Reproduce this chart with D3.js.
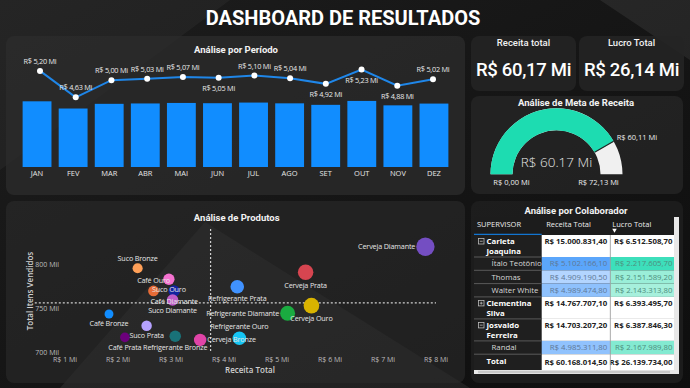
<!DOCTYPE html>
<html>
<head>
<meta charset="utf-8">
<script src="https://cdn.jsdelivr.net/npm/d3@7"></script>
<style>
  body { margin: 0; background: #141414; overflow: hidden; }
  svg { display: block; }
  text { font-family: "Open Sans", "Noto Sans", sans-serif; }
  .din { font-family: Roboto, "Open Sans", sans-serif; }
</style>
</head>
<body>
<div id="dash"></div>
<script>
// --- dados ---
var meses = ["JAN", "FEV", "MAR", "ABR", "MAI", "JUN", "JUL", "AGO", "SET", "OUT", "NOV", "DEZ"];
var receitaMes = [5.20, 4.63, 5.00, 5.03, 5.07, 5.05, 5.10, 5.04, 4.92, 5.23, 4.88, 5.02];
var rotuloMes = ["top", "top", "top", "top", "top", "bottom", "top", "top", "bottom", "bottom", "bottom", "top"];

var kpiTitulos = ["Receita total", "Lucro Total"];
var kpiValores = [60.17, 26.14];

var metaValor = 60.17, metaAlvo = 60.11, metaMin = 0, metaMax = 72.13;

var produtos = ["Café Bronze", "Café Diamante", "Café Ouro", "Café Prata",
    "Cerveja Bronze", "Cerveja Diamante", "Cerveja Ouro", "Cerveja Prata",
    "Refrigerante Bronze", "Refrigerante Diamante", "Refrigerante Ouro", "Refrigerante Prata",
    "Suco Bronze", "Suco Diamante", "Suco Ouro", "Suco Prata"];
var prodReceita = [1.83, 3.06, 2.67, 2.13, 3.55, 7.80, 5.65, 5.54, 3.08, 5.20, 4.29, 4.25, 2.37, 3.03, 2.96, 2.54];
var prodItens = [743.5, 769.7, 769.7, 717, 714, 820, 753, 790.9, 718.2, 744.3, 715.9, 774.5, 795.5, 759.4, 783, 730.2];
var prodRotulo = ["bottom", "bottom", "top", "bottom", "right", "left", "bottom", "bottom",
    "bottom", "left", "top", "bottom", "top", "bottom", "bottom", "bottom"];
var coresProd = ["#118DFF", "#12239E", "#E66C37", "#6B007B", "#E044A7", "#744EC2", "#D9B300", "#D64550",
    "#197278", "#1AAB40", "#15C6F4", "#4092FF", "#FFA058", "#BE5DC9", "#F472D0", "#B5A1FF"];
var xTicks = [1, 2, 3, 4, 5, 6, 7, 8];
var yTicks = [700, 750, 800];

var linhaNome = [["Carleta", "Joaquina"], ["Ítalo Teotônio"], ["Thomas"], ["Walter White"],
    ["Clementina", "Silva"], ["Josvaldo", "Ferreira"], ["Randal"], ["Total"]];
var linhaTipo = ["sup-", "col", "col", "col", "sup+", "sup-", "col", "total"];
var linhaReceita = [15000831.40, 5102166.10, 4909190.50, 4989474.80, 14767707.10, 14703207.20, 4985311.80, 60168014.50];
var linhaLucro = [6512508.70, 2217605.70, 2151589.20, 2143313.80, 6393495.70, 6387846.30, 2167989.80, 26139734.00];

// --- base ---
var W = 690, H = 388;
var svg = d3.select("#dash").append("svg").attr("width", W).attr("height", H);

var defs = svg.append("defs");
var grad = defs.append("linearGradient").attr("id", "bg").attr("x1", 0).attr("y1", 0).attr("x2", 1).attr("y2", 1);
grad.append("stop").attr("offset", "0%").attr("stop-color", "#1d1d1d");
grad.append("stop").attr("offset", "100%").attr("stop-color", "#0e0e0e");
svg.append("rect").attr("width", W).attr("height", H).attr("fill", "url(#bg)");

// faixas diagonais do fundo
var faixas = [
    [[0, 0], [230, 0], [0, 170]],
    [[205, 222], [470, 388], [60, 388]],
    [[600, 0], [690, 0], [690, 60]]
];
svg.append("g").selectAll("path").data(faixas).join("path")
    .attr("d", function (d) { return d3.line()(d) + "Z"; })
    .attr("fill", function (d, i) { return i == 0 ? "rgba(255,255,255,0.04)" : "rgba(255,255,255,0.07)"; });

svg.append("text").attr("class", "din")
    .attr("x", 343).attr("y", 25)
    .attr("text-anchor", "middle")
    .attr("fill", "#fff").attr("font-size", 20).attr("font-weight", 700)
    .text("DASHBOARD DE RESULTADOS");

function painel(x, y, w, h, fill) {
    svg.append("rect").attr("x", x).attr("y", y).attr("width", w).attr("height", h)
        .attr("rx", 8).attr("fill", fill);
}
function titulo(x, y, t) {
    svg.append("text").attr("class", "din").attr("x", x).attr("y", y)
        .attr("text-anchor", "middle").attr("fill", "#f2f2f2")
        .attr("font-size", 9.5).attr("font-weight", 700).text(t);
}

// --- Análise por Período ---
painel(6, 36, 459, 159, "rgba(44,44,44,0.75)");
titulo(236, 52.5, "Análise por Período");

var xBar = d3.scaleBand().domain(meses).range([19, 452]).paddingInner(0.2).paddingOuter(0.1);
var yBar = d3.scaleLinear().domain([0, 6]).range([167, 91.2]);
var gBar = svg.append("g");
gBar.selectAll("rect").data(receitaMes).join("rect")
    .attr("x", function (d, i) { return xBar(meses[i]); })
    .attr("y", function (d) { return yBar(d); })
    .attr("width", xBar.bandwidth())
    .attr("height", function (d) { return yBar(0) - yBar(d); })
    .attr("fill", "#118DFF");

var xAxisBar = d3.axisBottom(xBar).tickSize(0).tickPadding(4);
svg.append("g").attr("transform", "translate(0,167)").call(xAxisBar)
    .call(function (g) { g.select(".domain").remove(); })
    .selectAll("text").attr("fill", "#e6e6e6").attr("font-size", 7.5)
    .attr("font-family", "Open Sans");

var xLinha = d3.scalePoint().domain(meses).range([40, 433]);
var yLinha = d3.scaleLinear().domain(d3.extent(receitaMes)).range([97.3, 69.5]);
var linha = d3.line()
    .x(function (d, i) { return xLinha(meses[i]); })
    .y(function (d) { return yLinha(d); });
svg.append("path").datum(receitaMes).attr("d", linha)
    .attr("fill", "none").attr("stroke", "#1f86e8").attr("stroke-width", 2);
svg.append("g").selectAll("circle").data(receitaMes).join("circle")
    .attr("cx", function (d, i) { return xLinha(meses[i]); })
    .attr("cy", function (d) { return yLinha(d); })
    .attr("r", 3).attr("fill", "#fff");

var fmtMi = function (v) { return "R$ " + v.toFixed(2).replace(".", ",") + " Mi"; };
svg.append("g").selectAll("text").data(receitaMes).join("text")
    .attr("x", function (d, i) { return xLinha(meses[i]); })
    .attr("y", function (d, i) { return yLinha(d) + (rotuloMes[i] == "top" ? -7 : 13); })
    .attr("text-anchor", "middle")
    .attr("fill", "#eaeaea").attr("font-size", 7.3).attr("letter-spacing", -0.25)
    .text(fmtMi);

// --- KPIs ---
kpiTitulos.forEach(function (t, i) {
    var x0 = 471 + i * 108;
    painel(x0, 36, 105, 55, "rgba(36,36,36,0.85)");
    svg.append("text").attr("class", "din").attr("x", x0 + 52.5).attr("y", 45.5)
        .attr("text-anchor", "middle").attr("fill", "#f2f2f2")
        .attr("font-size", 9.5).attr("font-weight", 500).text(t);
    svg.append("text").attr("class", "din").attr("x", x0 + 52.5).attr("y", 76)
        .attr("text-anchor", "middle").attr("fill", "#fff")
        .attr("font-size", 18.5).attr("font-weight", 500).attr("letter-spacing", -0.3)
        .text("R$ " + kpiValores[i].toFixed(2).replace(".", ",") + " Mi");
});

// --- Meta de Receita ---
painel(471, 96, 212, 98, "rgba(36,36,36,0.85)");
titulo(576, 105.5, "Análise de Meta de Receita");
var gx = 556.5, gy = 174.3, rIn = 44, rOut = 66;
var ang = d3.scaleLinear().domain([metaMin, metaMax]).range([-Math.PI / 2, Math.PI / 2]);
var arco = d3.arc().innerRadius(rIn).outerRadius(rOut);
var gG = svg.append("g").attr("transform", "translate(" + gx + "," + gy + ")");
gG.append("path").attr("d", arco({ startAngle: ang(metaMin), endAngle: ang(metaMax) })).attr("fill", "#f0f0f0");
gG.append("path").attr("d", arco({ startAngle: ang(metaMin), endAngle: ang(metaValor) })).attr("fill", "#1ddcb1");
var aAlvo = ang(metaAlvo);
gG.append("line")
    .attr("x1", rIn * Math.sin(aAlvo)).attr("y1", -rIn * Math.cos(aAlvo))
    .attr("x2", rOut * Math.sin(aAlvo)).attr("y2", -rOut * Math.cos(aAlvo))
    .attr("stroke", "#222").attr("stroke-width", 1.2);
svg.append("text").attr("x", gx).attr("y", 166.5).attr("text-anchor", "middle")
    .attr("fill", "#e8e8e8").attr("font-size", 13.5).attr("font-weight", 300)
    .text("R$ " + metaValor.toFixed(2) + " Mi");
svg.append("text").attr("x", gx - 45).attr("y", 184.5).attr("text-anchor", "middle")
    .attr("fill", "#eee").attr("font-size", 7.5).text(fmtMi(metaMin));
svg.append("text").attr("x", gx + 42).attr("y", 184.5).attr("text-anchor", "middle")
    .attr("fill", "#eee").attr("font-size", 7.5).text(fmtMi(metaMax));
svg.append("text").attr("x", gx + rOut * Math.sin(aAlvo) + 3).attr("y", gy - rOut * Math.cos(aAlvo) - 1)
    .attr("fill", "#eee").attr("font-size", 7.5).text(fmtMi(metaAlvo));

// --- Análise de Produtos ---
painel(6, 201, 459, 182, "rgba(44,44,44,0.6)");
titulo(236.7, 221, "Análise de Produtos");
var xS = d3.scaleLinear().domain([1, 8]).range([65, 436]);
var yS = d3.scaleLinear().domain([700, 800]).range([352.3, 264.3]);
var rS = d3.scaleSqrt().domain([0, 8]).range([0, 9.3]);

svg.append("g").selectAll("text").data(xTicks).join("text")
    .attr("x", function (d) { return xS(d); }).attr("y", 361.5)
    .attr("text-anchor", "middle").attr("fill", "#bdbdbd").attr("font-size", 7)
    .text(function (d) { return "R$ " + d + " Mi"; });
svg.append("g").selectAll("text").data(yTicks).join("text")
    .attr("x", 59).attr("y", function (d) { return yS(d) + 2.5; })
    .attr("text-anchor", "end").attr("fill", "#bdbdbd").attr("font-size", 7)
    .text(function (d) { return d + " Mil"; });
svg.append("text").attr("x", 250).attr("y", 372.5).attr("text-anchor", "middle")
    .attr("fill", "#d0d0d0").attr("font-size", 8).attr("font-weight", 600).text("Receita Total");
svg.append("text").attr("transform", "translate(33,291) rotate(-90)").attr("text-anchor", "middle")
    .attr("fill", "#d0d0d0").attr("font-size", 8).attr("font-weight", 600).text("Total Itens Vendidos");

var mediaX = d3.mean(prodReceita), mediaY = d3.mean(prodItens);
svg.append("line").attr("x1", xS(mediaX)).attr("x2", xS(mediaX))
    .attr("y1", yS(840)).attr("y2", yS(700))
    .attr("stroke", "#cfcfcf").attr("stroke-width", 1.2).attr("stroke-dasharray", "2,2");
svg.append("line").attr("x1", xS(0.43)).attr("x2", xS(8))
    .attr("y1", yS(mediaY)).attr("y2", yS(mediaY))
    .attr("stroke", "#cfcfcf").attr("stroke-width", 1.2).attr("stroke-dasharray", "2,2");

var gP = svg.append("g");
gP.selectAll("circle").data(produtos).join("circle")
    .attr("cx", function (d, i) { return xS(prodReceita[i]); })
    .attr("cy", function (d, i) { return yS(prodItens[i]); })
    .attr("r", function (d, i) { return rS(prodReceita[i]); })
    .attr("fill", function (d, i) { return coresProd[i]; });
gP.selectAll("text").data(produtos).join("text")
    .attr("x", function (d, i) {
        var cx = xS(prodReceita[i]), r = rS(prodReceita[i]);
        if (prodRotulo[i] == "right") return cx + r + 1;
        if (prodRotulo[i] == "left") return cx - r - 1;
        return cx;
    })
    .attr("y", function (d, i) {
        var cy = yS(prodItens[i]), r = rS(prodReceita[i]);
        if (prodRotulo[i] == "top") return cy - r - 2.5;
        if (prodRotulo[i] == "bottom") return cy + r + 7.5;
        return cy + 2.5;
    })
    .attr("text-anchor", function (d, i) {
        return prodRotulo[i] == "right" ? "start" : prodRotulo[i] == "left" ? "end" : "middle";
    })
    .attr("fill", "#e6e6e6").attr("font-size", 7.2).attr("letter-spacing", -0.15)
    .text(function (d) { return d; });

// --- Análise por Colaborador ---
painel(471, 201, 212, 182, "rgba(30,30,30,0.9)");
titulo(576, 213.5, "Análise por Colaborador");
var locBR = d3.formatLocale({ decimal: ",", thousands: ".", grouping: [3], currency: ["R$ ", ""] });
var fmtBR = locBR.format("$,.2f");

var c0 = 474, c1 = 541.7, c2 = 610.3, c3 = 674;
svg.append("rect").attr("x", c0).attr("y", 217).attr("width", c3 - c0).attr("height", 17).attr("fill", "#1c1c1c");
svg.append("text").attr("x", c0 + 3).attr("y", 226.5).attr("fill", "#eee").attr("font-size", 7.5).text("SUPERVISOR");
svg.append("text").attr("x", c1 + 4.5).attr("y", 226.5).attr("fill", "#eee").attr("font-size", 7.5).text("Receita Total");
svg.append("text").attr("x", c2 + 2).attr("y", 226.5).attr("fill", "#eee").attr("font-size", 7.5).text("Lucro Total");
svg.append("path").attr("d", d3.symbol(d3.symbolTriangle, 9)()).attr("fill", "#fff")
    .attr("transform", "translate(614.5,230) rotate(180)");
svg.append("line").attr("x1", c0).attr("x2", c1).attr("y1", 234.3).attr("y2", 234.3)
    .attr("stroke", "#118DFF").attr("stroke-width", 1);

var alturas = linhaTipo.map(function (t, i) {
    return t == "total" ? 16.5 : (linhaNome[i].length > 1 ? 22 : 13.3);
});
var topos = [];
alturas.reduce(function (acc, h) { topos.push(acc); return acc + h; }, 235);

var corRec = d3.scaleLinear().domain([4909190.5, 5102166.1]).range(["#b3d5ff", "#5ba6fb"]);
var corLuc = d3.scaleLinear().domain([2143313.8, 2217605.7]).range(["#a6f0dc", "#3ddfbb"]);

var gT = svg.append("g");
linhaTipo.forEach(function (t, i) {
    var y0 = topos[i], h = alturas[i];
    var col = t == "col";
    gT.append("rect").attr("x", c0).attr("y", y0).attr("width", c1 - c0).attr("height", h).attr("fill", "#1f1f1f");
    gT.append("rect").attr("x", c1).attr("y", y0).attr("width", c2 - c1).attr("height", h)
        .attr("fill", col ? corRec(linhaReceita[i]) : "#fff");
    gT.append("rect").attr("x", c2).attr("y", y0).attr("width", c3 - c2).attr("height", h)
        .attr("fill", col ? corLuc(linhaLucro[i]) : "#fff");
    if (i > 0) {
        gT.append("line").attr("x1", c0).attr("x2", c1).attr("y1", y0).attr("y2", y0)
            .attr("stroke", "#5a5a5a").attr("stroke-width", 1);
    }
    var tx = col ? 491.5 : 486.5;
    linhaNome[i].forEach(function (s, k) {
        gT.append("text").attr("x", tx).attr("y", y0 + 9.3 + k * 9.7)
            .attr("fill", col ? "#d8d8d8" : "#fff").attr("font-size", 7.8)
            .attr("font-weight", col ? 400 : 700).text(s);
    });
    if (t == "sup-" || t == "sup+") {
        var ix = 478.5, iy = y0 + 3.5;
        gT.append("rect").attr("x", ix).attr("y", iy).attr("width", 5.5).attr("height", 5.5)
            .attr("fill", "none").attr("stroke", "#bbb").attr("stroke-width", 0.8);
        gT.append("line").attr("x1", ix + 1.3).attr("x2", ix + 4.2).attr("y1", iy + 2.75).attr("y2", iy + 2.75)
            .attr("stroke", "#bbb").attr("stroke-width", 0.8);
        if (t == "sup+") {
            gT.append("line").attr("y1", iy + 1.3).attr("y2", iy + 4.2).attr("x1", ix + 2.75).attr("x2", ix + 2.75)
                .attr("stroke", "#bbb").attr("stroke-width", 0.8);
        }
    }
    var ty = y0 + (t == "total" ? 10.5 : 9.3);
    gT.append("text").attr("x", c2 - 3).attr("y", ty).attr("text-anchor", "end")
        .attr("fill", col ? "#5f7896" : "#222").attr("font-size", 7.8)
        .attr("font-weight", col ? 400 : 700).text(fmtBR(linhaReceita[i]));
    gT.append("text").attr("x", c3 - 1.5).attr("y", ty).attr("text-anchor", "end")
        .attr("fill", col ? "#4f8e7e" : "#222").attr("font-size", 7.8)
        .attr("font-weight", col ? 400 : 700).text(fmtBR(linhaLucro[i]));
});
gT.append("line").attr("x1", c2).attr("x2", c2).attr("y1", 235).attr("y2", 370)
    .attr("stroke", "#aaa").attr("stroke-width", 0.8);
// barras de rolagem
svg.append("rect").attr("x", c3).attr("y", 217).attr("width", 5).attr("height", 153).attr("fill", "#e8e8e8");
svg.append("rect").attr("x", c0).attr("y", 370).attr("width", c3 - c0 + 5).attr("height", 4).attr("fill", "#e8e8e8");
svg.append("rect").attr("x", c0 + 4).attr("y", 370.8).attr("width", c3 - c0 - 8).attr("height", 2.4).attr("fill", "#c8c8c8");
</script>
</body>
</html>
